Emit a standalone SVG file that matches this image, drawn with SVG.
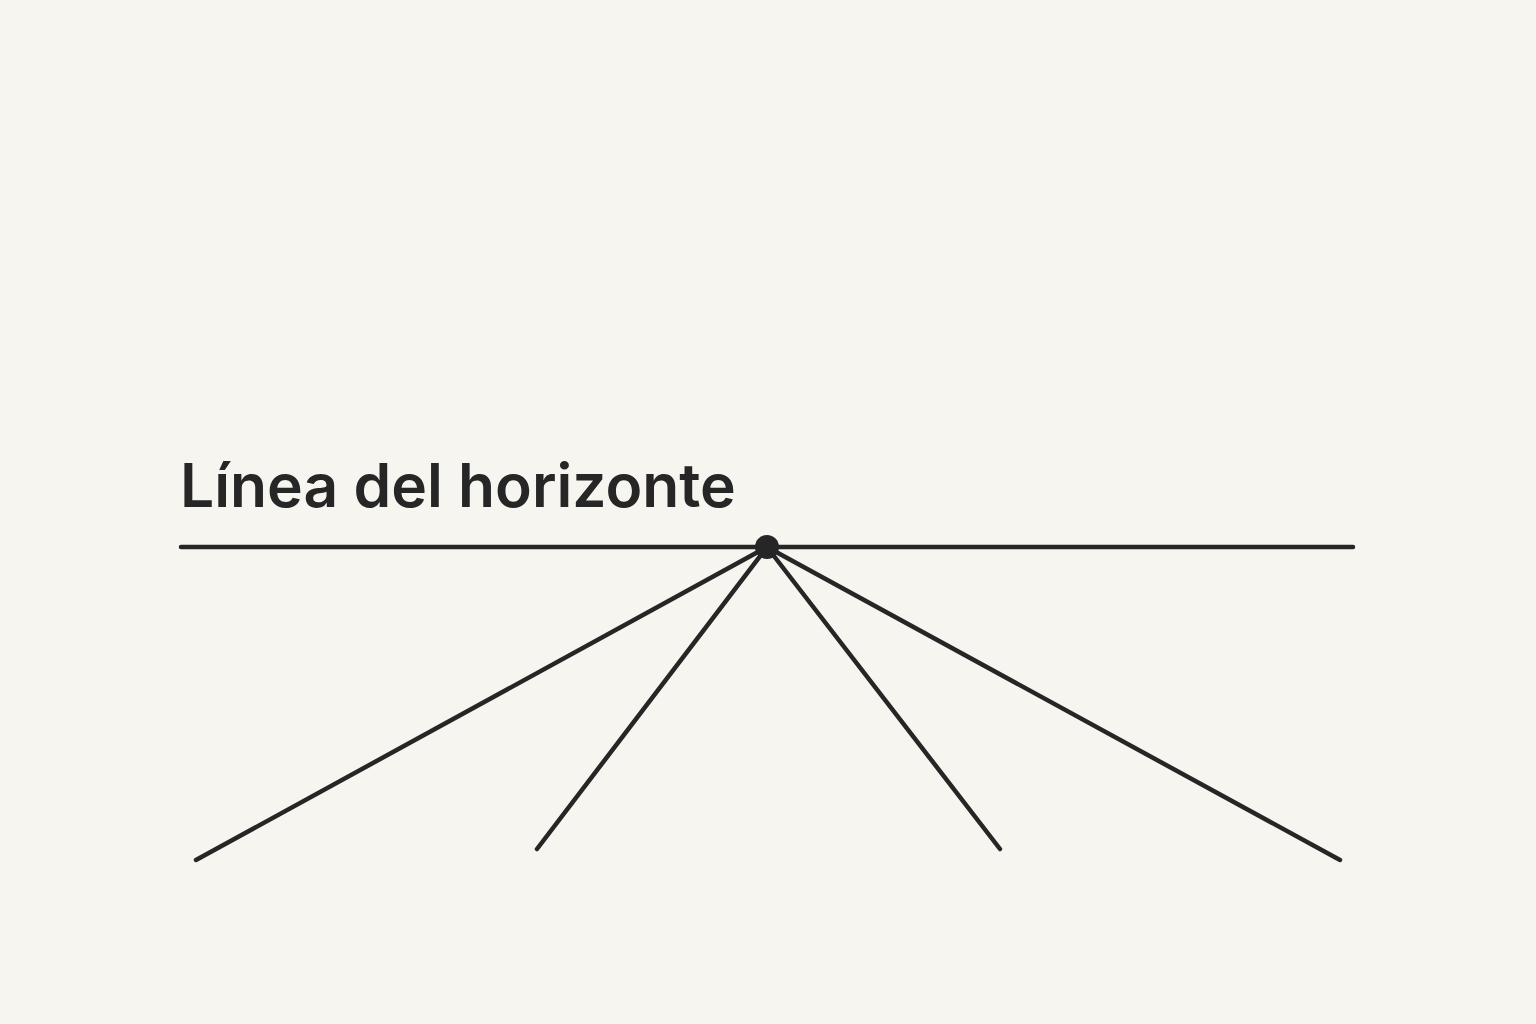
<svg xmlns="http://www.w3.org/2000/svg" width="1536" height="1024" viewBox="0 0 1536 1024">
<style>
.ln{stroke:#262626;stroke-width:4.5;stroke-linecap:round;fill:none}
.lbl{font-family:Inter,"Liberation Sans",sans-serif;font-weight:600;font-size:60.5px;fill:#262626}
</style>
<rect width="1536" height="1024" fill="#f7f5f0"/>
<g id="connectors">
<line class="ln" x1="181" y1="547" x2="1353" y2="547"/>
<line class="ln" x1="767" y1="547" x2="196" y2="860"/>
<line class="ln" x1="767" y1="547" x2="537" y2="849"/>
<line class="ln" x1="767" y1="547" x2="1000" y2="849"/>
<line class="ln" x1="767" y1="547" x2="1340" y2="860"/>
</g>
<g id="vanishing-point"><circle cx="767" cy="547" r="12" fill="#262626"/></g>
<g id="label"><text class="lbl" x="180" y="507">Línea del horizonte</text></g>
</svg>
